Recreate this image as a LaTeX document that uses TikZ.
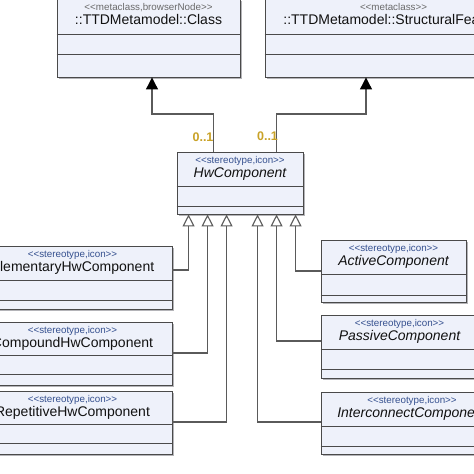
\documentclass[tikz,border=0pt]{standalone}
\usepackage{fontspec}
\setmainfont{Liberation Sans}
\usetikzlibrary{arrows.meta,fit,calc}
\definecolor{boxfill}{HTML}{EEF1FA}
\definecolor{boxline}{HTML}{4A4A4A}
\definecolor{shadowc}{HTML}{B4B4B8}
\definecolor{stblue}{HTML}{35508F}
\definecolor{stgray}{HTML}{6A6A6A}
\definecolor{namec}{HTML}{111111}
\definecolor{multc}{HTML}{C9A227}
\definecolor{connc}{HTML}{5A5A5A}
\tikzset{
  umlbox/.style={draw=boxline, fill=boxfill, line width=0.9pt, inner sep=0pt, rectangle},
  sepline/.style={draw=boxline, line width=0.9pt},
  stereo/.style={font=\fontsize{9.8}{10}\selectfont, inner sep=0pt, text height=0.72em, text depth=0.2em},
  umlname/.style={font=\fontsize{14}{15}\selectfont, text=namec, inner sep=0pt, text height=0.72em, text depth=0.2em},
  conn/.style={draw=connc, line width=1.1pt},
  assoc/.style={conn, -{Triangle[length=12pt,width=12pt,color=black]}},
  gen/.style={conn, -{Triangle[open,length=12pt,width=12pt,fill=white]}},
  mult/.style={font=\fontsize{12.5}{13}\selectfont\bfseries, text=multc, inner sep=0pt}
}
% #1 name, #2 x1, #3 y1, #4 x2, #5 y2, #6 sep1, #7 sep2, #8 stereotype, #9 title
\newcommand\umlclassbox[9]{%
  \fill[shadowc] (#2+1.8,#3+1.8) rectangle (#4+1.8,#5+1.8);
  \node[umlbox, fit={(#2,#3) (#4,#5)}] (#1) {};
  \draw[sepline] (#1.west |- 0,#6) -- (#1.east |- 0,#6);
  \draw[sepline] (#1.west |- 0,#7) -- (#1.east |- 0,#7);
  \node[stereo] (#1-st) at ($(#1.north)+(0,9)$) {#8};
  \node[umlname] (#1-nm) at ($(#1.north)+(0,23.2)$) {#9};
}
\begin{document}
\begin{tikzpicture}[x=1pt,y=-1pt]
\clip (0,0) rectangle (474,474);
\fill[white] (0,0) rectangle (474,474);

\umlclassbox{cls}{57}{-1}{240}{77}{34}{54}{\color{stgray}<{}<metaclass,browserNode>{}>}{::TTDMetamodel::Class}
\umlclassbox{sf}{265}{-1}{522}{77}{34}{54}{\color{stgray}<{}<metaclass>{}>}{::TTDMetamodel::StructuralFeature}
\umlclassbox{hw}{177}{152}{303}{214}{186}{206}{\color{stblue}<{}<stereotype,icon>{}>}{\itshape HwComponent}
\umlclassbox{elem}{-27}{246}{172}{309}{280}{300}{\color{stblue}<{}<stereotype,icon>{}>}{ElementaryHwComponent}
\umlclassbox{comp}{-27}{322}{172}{385}{355}{374}{\color{stblue}<{}<stereotype,icon>{}>}{CompoundHwComponent}
\umlclassbox{rep}{-27}{391}{172}{454}{424}{443}{\color{stblue}<{}<stereotype,icon>{}>}{RepetitiveHwComponent}
\umlclassbox{act}{321}{240}{466}{302}{274}{295}{\color{stblue}<{}<stereotype,icon>{}>}{\itshape ActiveComponent}
\umlclassbox{pas}{321}{315}{478}{378}{349}{369}{\color{stblue}<{}<stereotype,icon>{}>}{\itshape PassiveComponent}
\umlclassbox{ic}{321}{392}{503}{454}{426}{446}{\color{stblue}<{}<stereotype,icon>{}>}{\itshape InterconnectComponent}

% associations to metaclasses
\draw[assoc] ([xshift=37pt]hw.north west) |- ([xshift=3.5pt]cls.south |- 0,114) -- ([xshift=3.5pt]cls.south);
\draw[assoc] ([xshift=100pt]hw.north west) |- ([xshift=-27.5pt]sf.south |- 0,114) -- ([xshift=-27.5pt]sf.south);
\node[mult] (m1) at (203,137) {0..1};
\node[mult] (m2) at (267.5,136) {0..1};

% generalizations
\draw[gen] (elem.east |- 0,270) -| ([xshift=12pt]hw.south west);
\draw[gen] (comp.east |- 0,353) -| ([xshift=31pt]hw.south west);
\draw[gen] (rep.east |- 0,422) -| ([xshift=50pt]hw.south west);
\draw[gen] (ic.west |- 0,422) -| ([xshift=81pt]hw.south west);
\draw[gen] (pas.west |- 0,341) -| ([xshift=100pt]hw.south west);
\draw[gen] (act.west |- 0,271) -| ([xshift=119pt]hw.south west);
\end{tikzpicture}
\end{document}
